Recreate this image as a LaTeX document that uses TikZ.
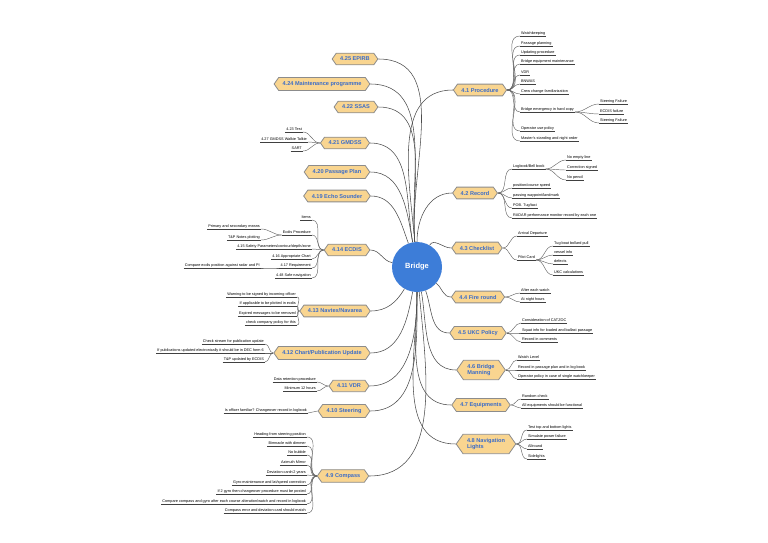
\documentclass[tikz,border=0pt]{standalone}
\usepackage{fontspec}
\setmainfont{Liberation Sans}
\usetikzlibrary{shapes.symbols}
\definecolor{tfill}{HTML}{F9D590}
\definecolor{ttext}{HTML}{3B6CC8}
\definecolor{bblue}{HTML}{3D7DD8}
\tikzset{
 topic/.style={signal, signal to=west and east, signal pointer angle=110, draw=black!45, line width=0.8pt, fill=tfill, text=ttext, font=\fontsize{5.6}{6.6}\selectfont\bfseries, inner xsep=4pt, inner ysep=3.8pt, align=left},
 leafR/.style={anchor=south west, inner xsep=1pt, inner ysep=1pt, font=\fontsize{3.8}{4}\selectfont},
 leafL/.style={anchor=south east, inner xsep=1pt, inner ysep=1pt, font=\fontsize{3.8}{4}\selectfont},
 uline/.style={draw=black!75, line width=0.6pt},
 conn/.style={draw=black!60, line width=0.45pt},
 bconn/.style={draw=black!70, line width=0.55pt}
}
\newcommand\RL[5]{\node[leafR] (#1) at (#2,#3+3) {#4};\draw[uline] (#1.south west)--(#1.south east);\draw[conn] (#5.east) to[out=0,in=180] (#1.south west);}
\newcommand\LL[5]{\node[leafL] (#1) at (#2,#3+3) {#4};\draw[uline] (#1.south west)--(#1.south east);\draw[conn] (#5.west) to[out=180,in=0] (#1.south east);}
\newcommand\RS[5]{\node[leafR] (#1) at (#2,#3+3) {#4};\draw[uline] (#1.south west)--(#1.south east);\draw[conn] (#5.south east) to[out=0,in=180] (#1.south west);}
\newcommand\LS[5]{\node[leafL] (#1) at (#2,#3+3) {#4};\draw[uline] (#1.south west)--(#1.south east);\draw[conn] (#5.south west) to[out=180,in=0] (#1.south east);}
\begin{document}
\begin{tikzpicture}[x=1pt,y=-1pt]
\useasboundingbox (0,0) rectangle (768,543);
\node[circle, fill=bblue, minimum size=50pt, text=white, font=\fontsize{7.5}{8}\selectfont\bfseries] (br) at (417,267) {Bridge};
% right topics
\node[topic] (t1) at (480,90) {4.1 Procedure};
\node[topic] (t2) at (475,193) {4.2 Record};
\node[topic] (t3) at (477,248) {4.3 Checklist};
\node[topic] (t4) at (478,297) {4.4 Fire round};
\node[topic] (t5) at (478,333) {4.5 UKC Policy};
\node[topic] (t6) at (481,370) {4.6 Bridge\\Manning};
\node[topic] (t7) at (481,405) {4.7 Equipments};
\node[topic] (t8) at (486,444) {4.8 Navigation\\Lights};
% left topics
\node[topic] (l25) at (355,59) {4.25 EPIRB};
\node[topic] (l24) at (322,84) {4.24 Maintenance programme};
\node[topic] (l22) at (356,107) {4.22 SSAS};
\node[topic] (l21) at (345,143) {4.21 GMDSS};
\node[topic] (l20) at (337,172) {4.20 Passage Plan};
\node[topic] (l19) at (337,196) {4.19 Echo Sounder};
\node[topic] (l14) at (347,250) {4.14 ECDIS};
\node[topic] (l13) at (335,311) {4.13 Navtex/Navarea};
\node[topic] (l12) at (322,353) {4.12 Chart/Publication Update};
\node[topic] (l11) at (349,386) {4.11 VDR};
\node[topic] (l10) at (344,411) {4.10 Steering};
\node[topic] (l9) at (343,476) {4.9 Compass};
% bridge connectors
\foreach \t/\a in {t1/95,t2/90,t3/60,t4/-40,t5/-70,t6/-80,t7/-90,t8/-90}
  \draw[bconn] (br) to[out=\a,in=180] (\t.west);
\foreach \t/\a in {l25/95,l24/95,l22/95,l21/100,l20/100,l19/110,l14/170,l13/-120,l12/-100,l11/-90,l10/-90,l9/-85}
  \draw[bconn] (br) to[out=\a,in=0] (\t.east);
% 4.1
\RL{a1}{520}{33}{Watchkeeping}{t1}
\RL{a2}{520}{43}{Passage planning}{t1}
\RL{a3}{520}{52}{Updating procedure}{t1}
\RL{a4}{520}{61}{Bridge equipment maintenance}{t1}
\RL{a5}{520}{72}{VDR}{t1}
\RL{a6}{520}{81}{BNWAS}{t1}
\RL{a7}{520}{91}{Crew change familiarization}{t1}
\RL{a8}{520}{109}{Bridge emergency in hard copy}{t1}
\RL{a9}{520}{128}{Operator use policy}{t1}
\RL{a10}{520}{138}{Master's standing and night order}{t1}
\RS{a81}{599}{101}{Steering Failure}{a8}
\RS{a82}{599}{111}{ECDIS failure}{a8}
\RS{a83}{599}{120}{Steering Failure}{a8}
% 4.2
\RL{b1}{512}{166}{Logbook/Bell book}{t2}
\RS{b11}{566}{157}{No empty line}{b1}
\RS{b12}{566}{167}{Correction signed}{b1}
\RS{b13}{566}{177}{No pencil}{b1}
\RL{b2}{512}{185}{position/course speed}{t2}
\RL{b3}{512}{195}{passing waypoint/landmark}{t2}
\RL{b4}{512}{205}{POB. Tug/taxi}{t2}
\RL{b5}{512}{215}{RADAR performance monitor record by each one}{t2}
% 4.3
\RL{c1}{517}{233}{Arrival Departure}{t3}
\RL{c2}{517}{257}{Pilot Card}{t3}
\RS{c21}{553}{243}{Tug boat bollard pull}{c2}
\RS{c22}{553}{252}{vessel info}{c2}
\RS{c23}{553}{261}{defects}{c2}
\RS{c24}{553}{272}{UKC calculations}{c2}
% 4.4
\RL{d1}{520}{290}{After each watch}{t4}
\RL{d2}{520}{299}{At night hours}{t4}
% 4.5
\RL{e1}{521}{320}{Consideration of CATZOC}{t5}
\RL{e2}{521}{330}{Squat info for loaded and ballast passage}{t5}
\RL{e3}{521}{339}{Record in comments}{t5}
% 4.6
\RL{f1}{517}{357}{Watch Level}{t6}
\RL{f2}{517}{367}{Record in passage plan and in log book}{t6}
\RL{f3}{517}{376}{Operator policy in case of single watchkeeper}{t6}
% 4.7
\RL{g1}{521}{396}{Random check}{t7}
\RL{g2}{521}{405}{All equipments should be functional}{t7}
% 4.8
\RL{h1}{527}{427}{Test top and bottom lights}{t8}
\RL{h2}{527}{436}{Simulate power failure}{t8}
\RL{h3}{527}{446}{Allround}{t8}
\RL{h4}{527}{456}{Sidelights}{t8}
% 4.21
\LL{m1}{303}{129}{4.23 Test}{l21}
\LL{m2}{308}{139}{4.27 GMDSS Walkie Talkie}{l21}
\LL{m3}{303}{148}{SART}{l21}
% 4.14
\LL{n1}{312}{217}{Items}{l14}
\LL{n2}{312}{232}{Ecdis Procedure}{l14}
\LS{n21}{261}{226}{Primary and secondary means}{n2}
\LS{n22}{261}{237}{T\&P Notes plotting}{n2}
\LL{n3}{312}{246}{4.15 Safety Parameters/contour/depth/zone}{l14}
\LL{n4}{312}{256}{4.16 Appropriate Chart}{l14}
\LL{n5}{312}{265}{4.17 Requirement}{l14}
\LS{n51}{261}{265}{Compare ecdis position against radar and PI}{n5}
\LL{n6}{312}{275}{4.48 Safe navigation}{l14}
% 4.13
\LL{o1}{297}{294}{Warning to be signed by incoming officer}{l13}
\LL{o2}{297}{303}{If applicable to be plotted in ecdis}{l13}
\LL{o3}{297}{313}{Expired messages to be removed}{l13}
\LL{o4}{297}{322}{check company policy for this}{l13}
% 4.12
\LL{p1}{265}{341}{Check stream for publication update}{l12}
\LL{p2}{265}{350}{If publications updated electronically it should be in DEC form 6}{l12}
\LL{p3}{265}{359}{T\&P updated by ECDIS}{l12}
% 4.11
\LL{q1}{317}{379}{Data retention procedure}{l11}
\LL{q2}{317}{388}{Minimum 12 hours}{l11}
% 4.10
\LL{r1}{308}{410}{Is officer familiar? Changeover record in logbook}{l10}
% 4.9
\LL{s1}{307}{434}{Heading from steering position}{l9}
\LL{s2}{307}{443}{Bimnacle with dimmer}{l9}
\LL{s3}{307}{452}{No bubble}{l9}
\LL{s4}{307}{462}{Azimuth Mirror}{l9}
\LL{s5}{307}{472}{Deviation card<2 years}{l9}
\LL{s6}{307}{482}{Gyro maintenance and lat/speed correction}{l9}
\LL{s7}{307}{491}{If 2 gyro then changeover procedure must be posted}{l9}
\LL{s8}{307}{501}{Compare compass and gyro after each course alteration/watch and record in logbook}{l9}
\LL{s9}{307}{510}{Compass error and deviation card should match}{l9}
\end{tikzpicture}
\end{document}
